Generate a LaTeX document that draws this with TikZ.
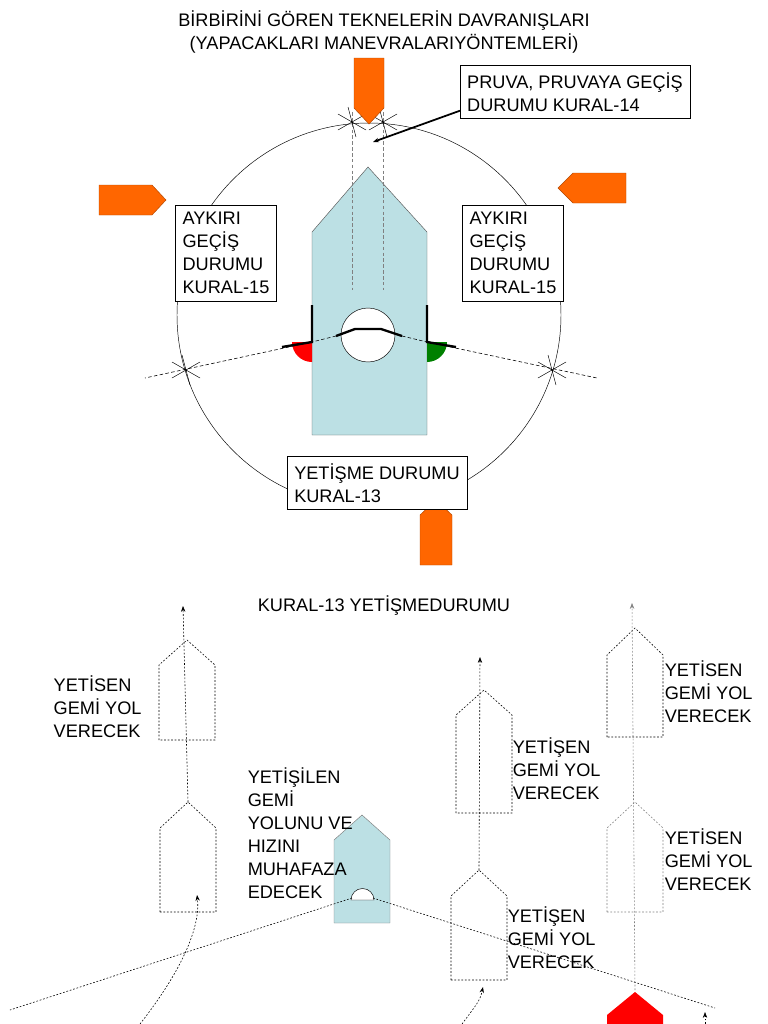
\documentclass[tikz,border=0pt]{standalone}
\usepackage{fontspec}
\setmainfont{Liberation Sans}
\usetikzlibrary{arrows.meta}
\definecolor{shipblue}{RGB}{188,224,228}
\definecolor{orng}{RGB}{255,102,0}
\definecolor{grn}{RGB}{0,128,0}
\tikzset{
  lbl/.style={font=\fontsize{15.5}{19.6}\selectfont, align=left, inner sep=3pt},
  box/.style={lbl, draw, fill=white, inner sep=6pt},
  dashln/.style={densely dashed, line width=0.5pt},
  ghost/.style={dashln, dash pattern=on 1.5pt off 1.5pt},
  xmark/.style={line width=0.4pt},
  tip/.style={-{Stealth[length=5pt]}}
}
\newcommand{\hull}[4]{% x, tip y, shoulder y, bottom y
  (#1-28,#4) -- (#1-28,#3) -- (#1,#2) -- (#1+28,#3) -- (#1+28,#4) -- cycle}
\begin{document}
\begin{tikzpicture}[x=0.03cm,y=-0.03cm]
    \useasboundingbox (0,0) rectangle (768,1024);
    % upper picture
    \node[lbl, align=center] (title) at (384,32) {BİRBİRİNİ GÖREN TEKNELERİN DAVRANIŞLARI\\(YAPACAKLARI MANEVRALARIYÖNTEMLERİ)};
    \draw (369,315) circle (192);
    \fill[shipblue] (312,232) -- (368,167) -- (427,232) -- (427,435) -- (312,435) -- cycle;
    \draw[gray!70!black] (312,232) -- (368,167) -- (427,232) -- (427,435) -- (312,435) -- cycle;
    \draw[dashln, gray] (352,112) -- (352,290);
    \draw[dashln, gray] (383,112) -- (383,290);
    \draw[fill=white] (368,335) circle (27);
    \coordinate (pl) at (312,342);
    \coordinate (sl) at (427,342);
    \fill[red] (pl) -- ++(-20,0) arc (180:90:20) -- cycle;
    \fill[grn] (sl) -- ++(20,0) arc (0:90:20) -- cycle;
    \draw[line width=2pt] (312,305) -- (pl) -- (282,347);
    \draw[line width=2pt] (427,305) -- (sl) -- (456,347);
    \draw[line width=2pt] (336,336) -- (355,329) -- (381,329) -- (402,336);
    \draw[dashln] (pl) -- (145,378);
    \draw[dashln] (sl) -- (597,378);
    \draw[dashln] (336,336) -- (pl);
    \draw[dashln] (402,336) -- (sl);
    \foreach \x/\y in {186/370, 552/370, 352/122, 383/122}
      \draw[xmark] (\x-14,\y-8) -- (\x+14,\y+8) (\x-14,\y+8) -- (\x+14,\y-8) (\x-4,\y-15) -- (\x+4,\y+15);
    % orange ships
    \fill[orng, draw=orng!70!black] (354,58) -- (384,58) -- (384,108) -- (369,124) -- (354,108) -- cycle;
    \fill[orng, draw=orng!70!black] (99,185) -- (152,185) -- (166,200) -- (152,215) -- (99,215) -- cycle;
    \fill[orng, draw=orng!70!black] (626,173) -- (573,173) -- (558,188) -- (573,203) -- (626,203) -- cycle;
    \fill[orng, draw=orng!70!black] (420,565) -- (420,515) -- (436,500) -- (452,515) -- (452,565) -- cycle;
    \node[box] (pruva) at (575,92) {PRUVA, PRUVAYA GEÇİŞ\\DURUMU KURAL-14};
    \coordinate (bow) at (373,142);
    \draw[line width=1.5pt, tip] (pruva.south west) ++(0,-8) -- (bow);
    \node[box] (aykl) at (226,253) {AYKIRI\\GEÇİŞ\\DURUMU\\KURAL-15};
    \node[box] (aykr) at (513,253) {AYKIRI\\GEÇİŞ\\DURUMU\\KURAL-15};
    \node[box] (yet) at (377,483) {YETİŞME DURUMU\\KURAL-13};
    % lower picture
    \node[lbl] (title2) at (384,606) {KURAL-13 YETİŞMEDURUMU};
    \draw[ghost] \hull{187}{640}{665}{740};
    \draw[ghost] \hull{188}{802}{828}{912};
    \draw[ghost] \hull{484}{690}{715}{813};
    \draw[ghost] \hull{479}{870}{896}{980};
    \draw[ghost] \hull{635}{628}{655}{737};
    \draw[ghost, gray] \hull{635}{802}{828}{912};
    \fill[shipblue, draw=gray] \hull{362}{815}{840}{923};
    \draw[fill=white] (351,900) -- (374,900) arc (0:-180:11.5) -- cycle;
    \fill[red] \hull{635}{992}{1015}{1040};
    \coordinate (a1) at (183,606);
    \coordinate (a3) at (480,657);
    \coordinate (a5) at (632,603);
    \draw[ghost, tip] (188,802) -- (a1);
    \draw[ghost, tip] (479,870) -- (a3);
    \draw[ghost, gray, tip] (635,990) -- (a5);
    \draw[ghost, tip] (140,1024) .. controls (190,960) and (200,920) .. (197,895);
    \draw[ghost, tip] (462,1024) .. controls (480,1000) .. (483,987);
    \draw[ghost, tip] (705,1024) -- (705,1012);
    \draw[ghost] (352,898) -- (10,1010);
    \draw[ghost] (373,898) -- (715,1008);
    \node[lbl, anchor=north west] (t1) at (50,672) {YETİSEN\\GEMİ YOL\\VERECEK};
    \node[lbl, anchor=north west] (t2) at (244,764) {YETİŞİLEN\\GEMİ\\YOLUNU VE\\HIZINI\\MUHAFAZA\\EDECEK};
    \node[lbl, anchor=north west] (t3) at (509,734) {YETİŞEN\\GEMİ YOL\\VERECEK};
    \node[lbl, anchor=north west] (t4) at (504,903) {YETİŞEN\\GEMİ YOL\\VERECEK};
    \node[lbl, anchor=north west] (t5) at (661,657) {YETİSEN\\GEMİ YOL\\VERECEK};
    \node[lbl, anchor=north west] (t6) at (661,825) {YETİSEN\\GEMİ YOL\\VERECEK};
\end{tikzpicture}
\end{document}
